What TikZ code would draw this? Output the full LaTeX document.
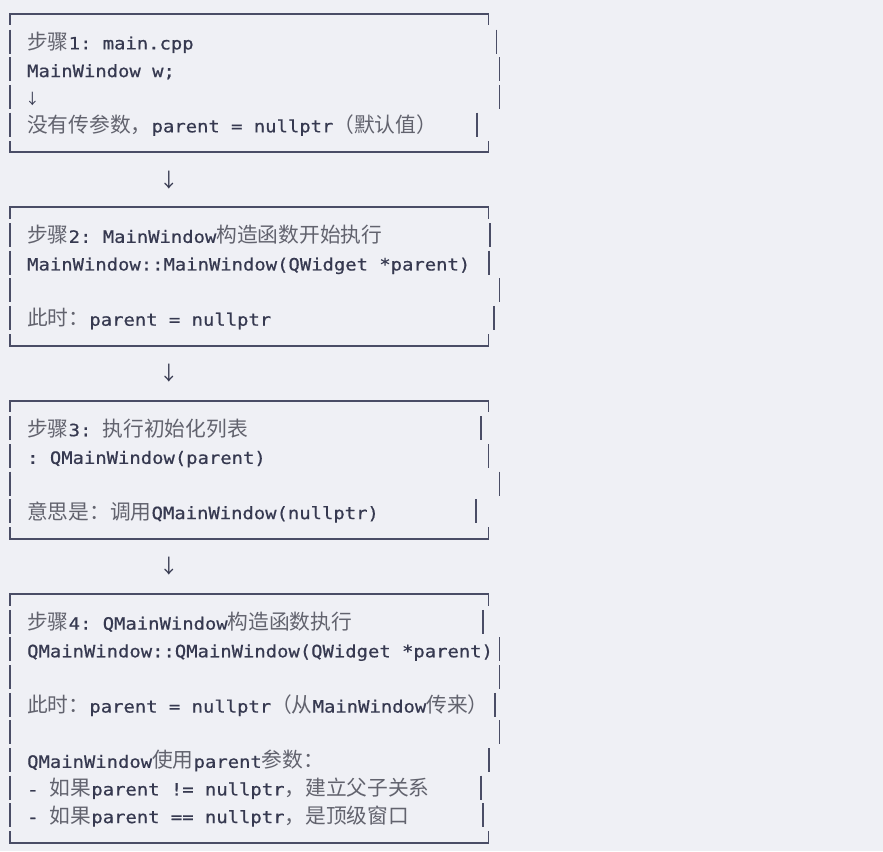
\documentclass[tikz,border=0pt]{standalone}
\usepackage{fontspec}
\setmonofont[FakeStretch=1.11,FakeBold=0.6]{DejaVu Sans Mono}
\newfontfamily\cjkfont[Scale=1.22]{Noto Sans CJK SC}
\definecolor{bg}{HTML}{EFF0F5}
\definecolor{asc}{HTML}{363950}
\definecolor{zhc}{HTML}{62636E}
\definecolor{bord}{HTML}{4A4D66}
\newcommand\zh[1]{{\cjkfont\color{zhc}#1}}
\begin{document}
\begin{tikzpicture}[x=1pt,y=-1pt,
  hline/.style={draw=bord,line width=2pt},
  vbar/.style={draw=bord,line width=1.6pt},
  txt/.style={anchor=base west,inner sep=0pt,text=asc,font=\ttfamily\fontsize{17}{20}\selectfont},
  arr/.style={anchor=center,inner sep=0pt,text=asc,font=\cjkfont\fontsize{16}{20}\selectfont}]
\fill[bg] (0,0) rectangle (883,851);
\useasboundingbox (0,0) rectangle (883,851);
% box frames: top and bottom rows
\foreach \t/\b in {0/5,7/12,14/19,21/30}{
  \draw[hline] (9,{14+27.63*\t}) -- (489.3,{14+27.63*\t});
  \draw[hline] (9,{14+27.63*\b}) -- (489.3,{14+27.63*\b});
  \draw[vbar] (10,{14+27.63*\t}) -- ++(0,11.5);
  \draw[vbar] (488.5,{14+27.63*\t}) -- ++(0,11.5);
  \draw[vbar] (10,{14+27.63*\b}) -- ++(0,-11.5);
  \draw[vbar] (488.5,{14+27.63*\b}) -- ++(0,-11.5);
}
% left bars
\foreach \k in {1,2,3,4,8,9,10,11,15,16,17,18,22,23,24,25,26,27,28,29}
  \draw[vbar] (10,{14+27.63*\k-12}) -- ++(0,24);
% right bars
\foreach \k/\x in {1/496.5,2/499.5,3/499.5,4/477,
                   8/490,9/489,10/499.5,11/494,
                   15/481,16/488.5,17/499.5,18/476,
                   22/483,23/499.5,24/499.5,25/495,26/499.5,27/489,28/481,29/483}
  \draw[vbar] (\x,{14+27.63*\k-12}) -- ++(0,24);
% box 1
\node[txt] (s1a) at (27,{41.63+7.8}) {\zh{步骤}1: main.cpp};
\node[txt] (s1b) at (27,{69.26+7.8}) {MainWindow w;};
\node[arr,font=\cjkfont\fontsize{12}{14}\selectfont] (s1c) at (32.5,98.5) {↓};
\node[txt] (s1d) at (27,{124.52+7.8}) {\zh{没有传参数，}parent = nullptr\zh{（默认值）}};
\node[arr] (a1) at (169,179.78) {↓};
% box 2
\node[txt] (s2a) at (27,{235.04+7.8}) {\zh{步骤}2: MainWindow\zh{构造函数开始执行}};
\node[txt] (s2b) at (27,{262.67+7.8}) {MainWindow::MainWindow(QWidget *parent)};
\node[txt] (s2d) at (27,{317.93+7.8}) {\zh{此时：}parent = nullptr};
\node[arr] (a2) at (169,373.19) {↓};
% box 3
\node[txt] (s3a) at (27,{428.45+7.8}) {\zh{步骤}3: \zh{执行初始化列表}};
\node[txt] (s3b) at (27,{456.08+7.8}) {: QMainWindow(parent)};
\node[txt] (s3d) at (27,{511.34+7.8}) {\zh{意思是：调用}QMainWindow(nullptr)};
\node[arr] (a3) at (169,566.60) {↓};
% box 4
\node[txt] (s4a) at (27,{621.86+7.8}) {\zh{步骤}4: QMainWindow\zh{构造函数执行}};
\node[txt] (s4b) at (27,{649.49+7.8}) {QMainWindow::QMainWindow(QWidget *parent)};
\node[txt] (s4d) at (27,{704.75+7.8}) {\zh{此时：}parent = nullptr\zh{（从}MainWindow\zh{传来）}};
\node[txt] (s4f) at (27,{760.01+7.8}) {QMainWindow\zh{使用}parent\zh{参数：}};
\node[txt] (s4g) at (27,{787.64+7.8}) {- \zh{如果}parent != nullptr\zh{，建立父子关系}};
\node[txt] (s4h) at (27,{815.27+7.8}) {- \zh{如果}parent == nullptr\zh{，是顶级窗口}};
\end{tikzpicture}
\end{document}
